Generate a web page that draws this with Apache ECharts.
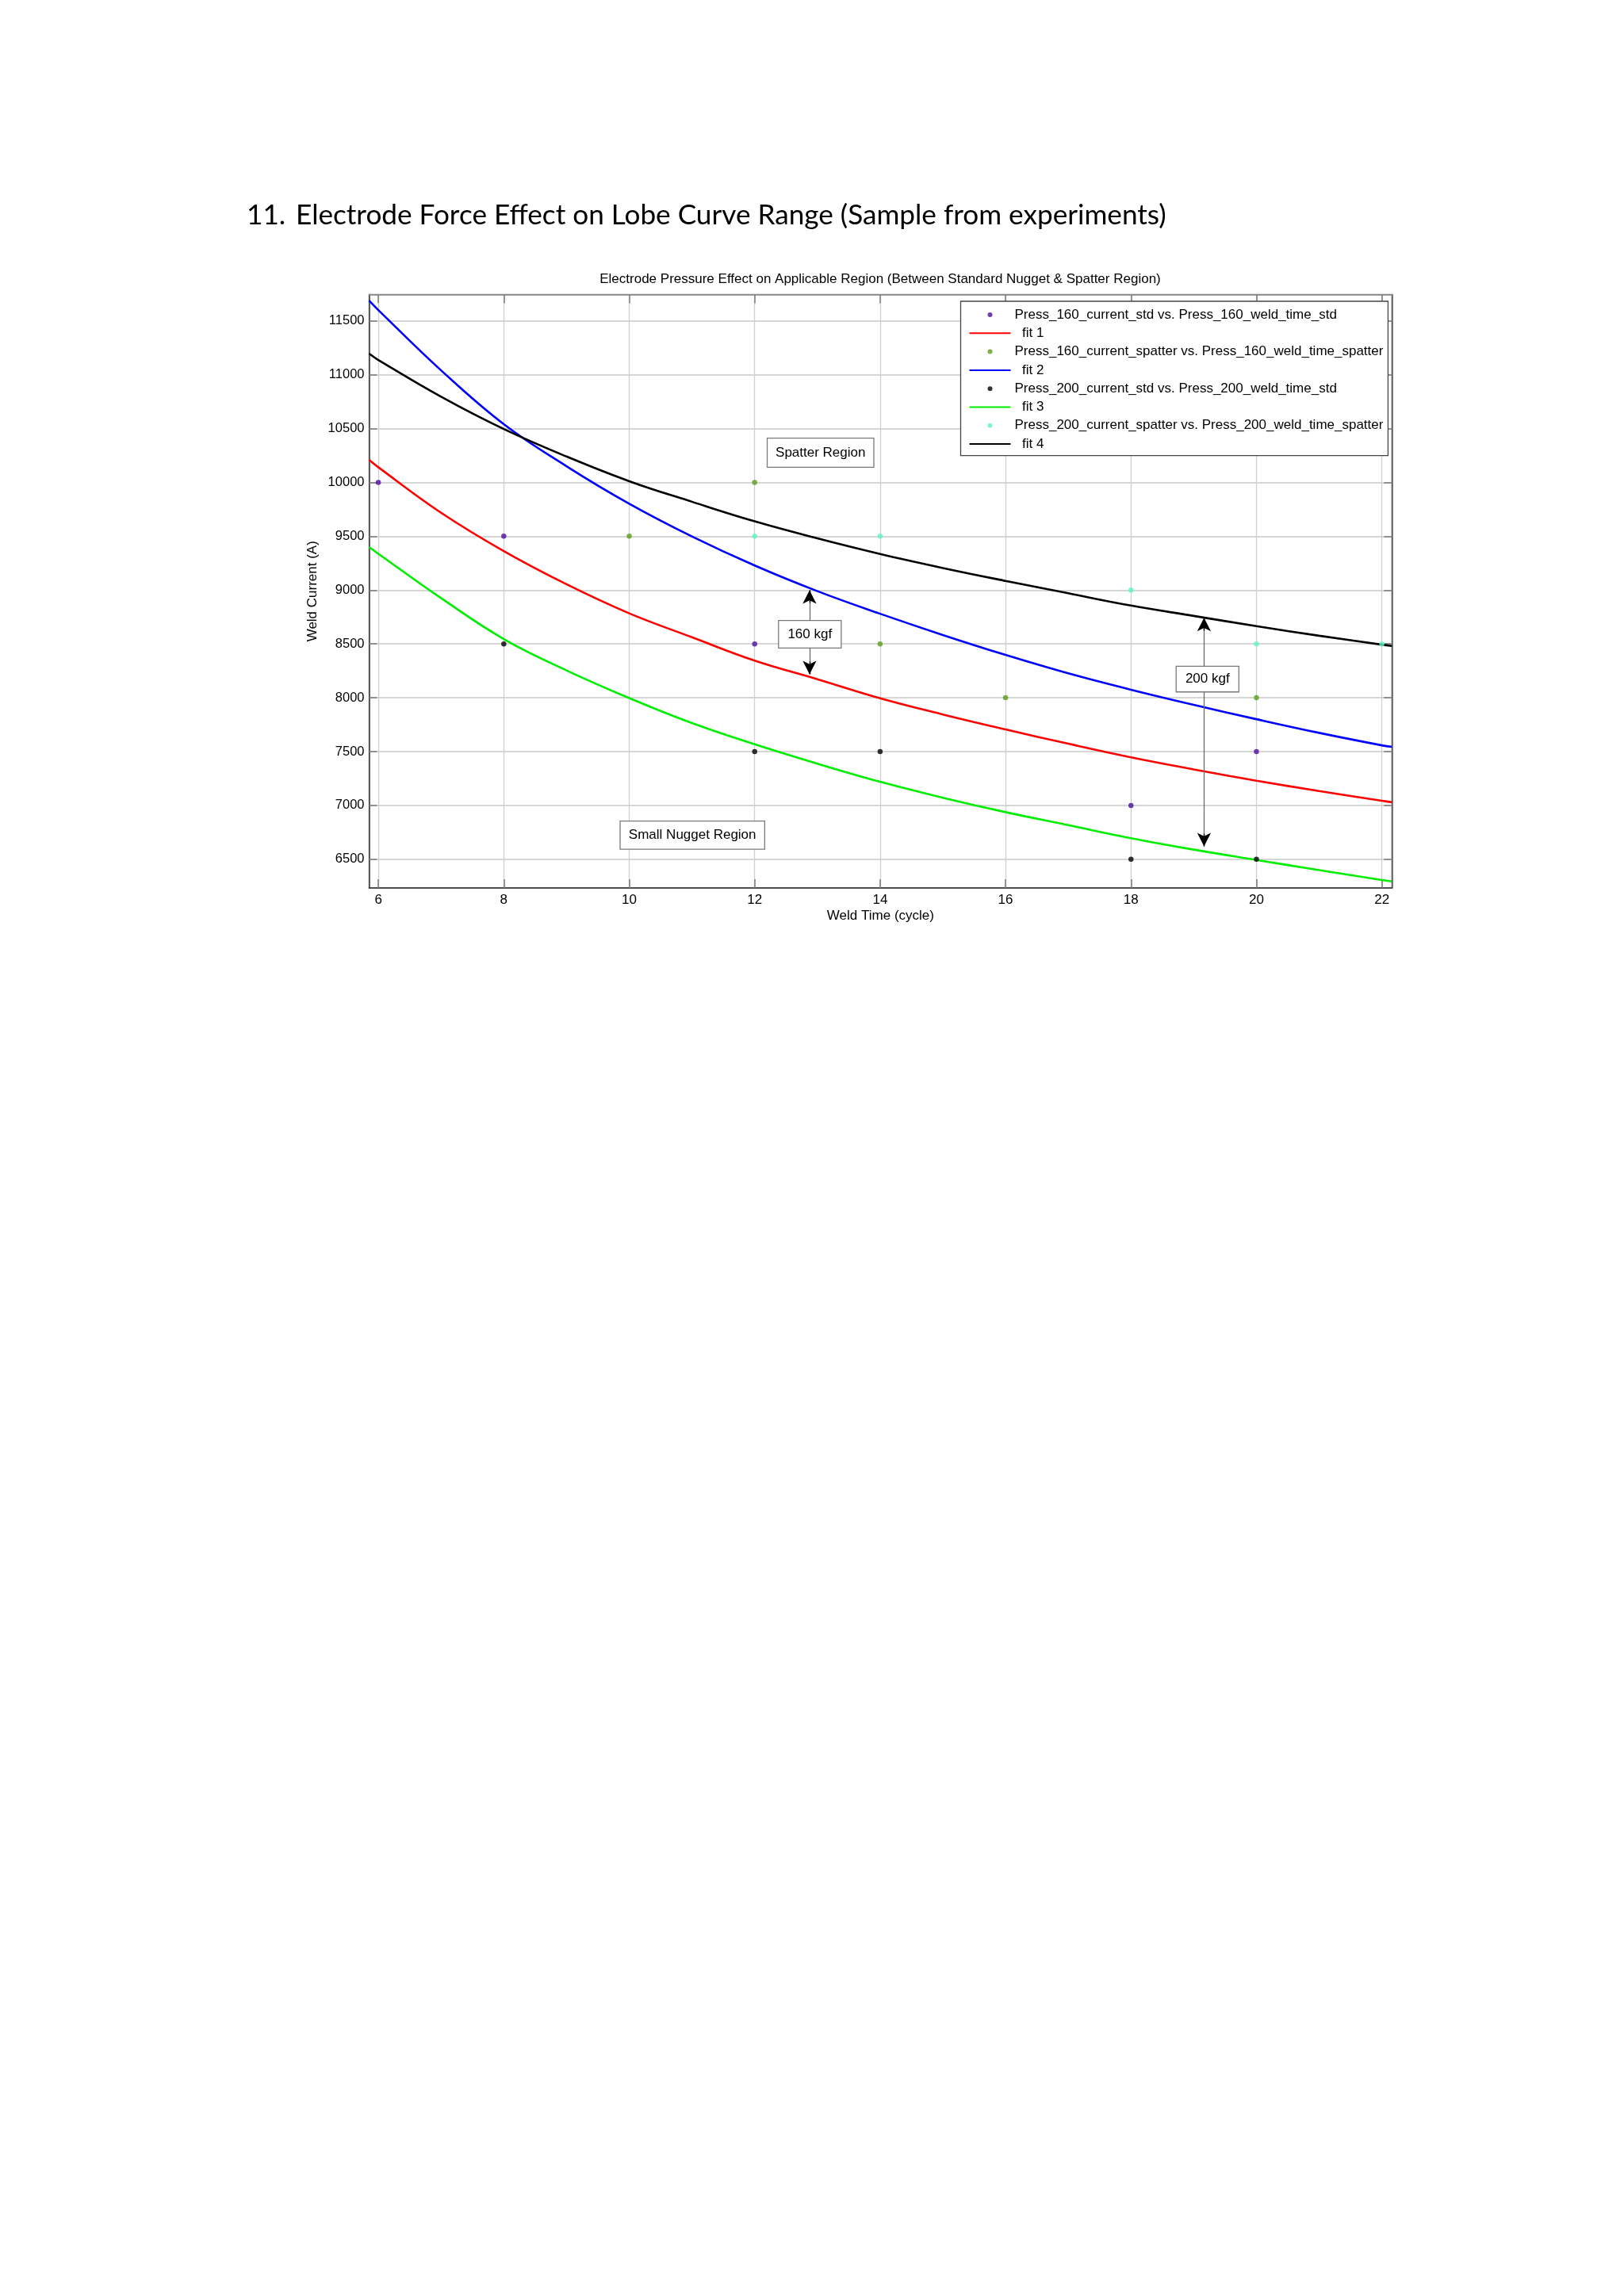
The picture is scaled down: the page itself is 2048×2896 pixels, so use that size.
<!DOCTYPE html>
<html>
<head>
<meta charset="utf-8">
<script src="https://cdn.jsdelivr.net/npm/echarts@6/dist/echarts.min.js"></script>
<style>
html,body{margin:0;padding:0;background:#ffffff;}
#c{width:2048px;height:2896px;}
</style>
</head>
<body>
<div id="c"></div>
<script>
// ---------- text ----------
const pageTitleNum = '11.';
const pageTitle = 'Electrode Force Effect on Lobe Curve Range (Sample from experiments)';
const chartTitle = 'Electrode Pressure Effect on Applicable Region (Between Standard Nugget & Spatter Region)';
const xAxisName = 'Weld Time (cycle)';
const yAxisName = 'Weld Current (A)';

// ---------- axes ----------
const xTicks = [6, 8, 10, 12, 14, 16, 18, 20, 22];
const yTicks = [6500, 7000, 7500, 8000, 8500, 9000, 9500, 10000, 10500, 11000, 11500];
const xRange = [5.853, 22.16];
const yRange = [6234, 11744];

// ---------- measured points ----------
const press160StdX = [6, 8, 12, 18, 20];
const press160StdY = [10000, 9500, 8500, 7000, 7500];
const press160SpatterX = [10, 12, 14, 16, 20];
const press160SpatterY = [9500, 10000, 8500, 8000, 8000];
const press200StdX = [8, 12, 14, 18, 20];
const press200StdY = [8500, 7500, 7500, 6500, 6500];
const press200SpatterX = [12, 14, 18, 20, 22];
const press200SpatterY = [9500, 9500, 9000, 8500, 8500];

// ---------- fitted curves ----------
const fitX  = [5.853, 6, 7, 8, 9, 10, 11, 12, 13, 14, 15, 16, 17, 18, 19, 20, 21, 22, 22.16];
const fit1Y = [10209, 10140, 9718, 9362, 9054, 8784, 8562, 8345, 8172, 7995, 7845, 7706, 7573, 7447, 7335, 7230, 7134, 7044, 7030];
const fit2Y = [11688, 11600, 11040, 10540, 10150, 9802, 9498, 9228, 8990, 8780, 8583, 8398, 8227, 8075, 7934, 7801, 7674, 7558, 7544];
const fit3Y = [9399, 9337, 8925, 8545, 8254, 7997, 7765, 7568, 7388, 7220, 7072, 6938, 6817, 6696, 6590, 6494, 6400, 6308, 6295];
const fit4Y = [11195, 11136, 10795, 10495, 10240, 10011, 9820, 9638, 9480, 9335, 9205, 9085, 8970, 8856, 8760, 8665, 8576, 8493, 8481];

const seriesNames = [
  'Press_160_current_std vs. Press_160_weld_time_std', 'fit 1',
  'Press_160_current_spatter vs. Press_160_weld_time_spatter', 'fit 2',
  'Press_200_current_std vs. Press_200_weld_time_std', 'fit 3',
  'Press_200_current_spatter vs. Press_200_weld_time_spatter', 'fit 4'
];

const FONT = '"Liberation Sans", Arial, sans-serif';
const FS = 17;
const zip = (xs, ys) => xs.map((x, i) => [x, ys[i]]);

// fit page title width to reference
function measure(text, font) {
  const cv = document.createElement('canvas');
  const ctx = cv.getContext('2d');
  ctx.font = font;
  return ctx.measureText(text).width;
}
let titleSize = 34;
const w = measure(pageTitle, titleSize + 'px Lato');
if (w > 0) titleSize = Math.max(26, Math.min(42, titleSize * 1098 / w));

function scatter(name, xs, ys, color) {
  return {
    name, type: 'scatter', data: zip(xs, ys),
    symbol: 'circle', symbolSize: 6.5,
    itemStyle: { color }, z: 6
  };
}
function fit(name, ys, color) {
  return {
    name, type: 'line', data: zip(fitX, ys),
    smooth: 0.4, symbol: 'none', showSymbol: false,
    lineStyle: { color, width: 2.6 }, itemStyle: { color }, z: 4
  };
}

const chart = echarts.init(document.getElementById('c'), null, { renderer: 'canvas' });

const boxStyle = { color: '#ffffff', borderColor: '#7a7a7a', borderWidth: 1.3 };
const legendData = seriesNames.map(n => (n.indexOf('fit') === 0
  ? { name: n, itemStyle: { opacity: 0 } }
  : { name: n }));

const option = {
  animation: false,
  backgroundColor: '#ffffff',
  grid: { left: 465.5, top: 371.5, width: 1289.8, height: 748.5, show: true,
          backgroundColor: '#ffffff', borderColor: '#8a8a8a', borderWidth: 1.5 },
  legend: {
    orient: 'vertical', left: 1211.5, top: 380,
    padding: [8.5, 6, 6, 10], itemWidth: 52, itemHeight: 6, itemGap: 6.3,
    backgroundColor: '#ffffff', borderColor: '#444', borderWidth: 1.3, borderRadius: 0,
    selectedMode: false,
    textStyle: { fontSize: FS, lineHeight: 17, color: '#000', fontFamily: FONT },
    formatter: n => (n.indexOf('fit') === 0 ? '  ' + n : n),
    data: legendData
  },
  xAxis: [{
    type: 'value', position: 'bottom', min: xRange[0], max: xRange[1],
    name: xAxisName, nameLocation: 'middle', nameGap: 27,
    nameTextStyle: { fontSize: FS, color: '#000', fontFamily: FONT },
    axisLine: { show: true, onZero: false, lineStyle: { color: '#333', width: 1.6 } },
    axisTick: { show: true, inside: true, length: 11, customValues: xTicks, lineStyle: { color: '#7a7a7a', width: 1.5 } },
    axisLabel: { customValues: xTicks, margin: 7, fontSize: FS, color: '#000', fontFamily: FONT,
                 formatter: v => String(v) },
    splitLine: { show: true, lineStyle: { color: '#cfcfcf', width: 1.3 } }
  }, {
    type: 'value', position: 'top', min: xRange[0], max: xRange[1],
    axisLine: { show: true, onZero: false, lineStyle: { color: '#8a8a8a', width: 1.5 } },
    axisTick: { show: true, inside: true, length: 11, customValues: xTicks, lineStyle: { color: '#7a7a7a', width: 1.5 } },
    axisLabel: { show: false },
    splitLine: { show: false }
  }],
  yAxis: [{
    type: 'value', position: 'left', min: yRange[0], max: yRange[1],
    name: yAxisName, nameLocation: 'middle', nameGap: 54,
    nameTextStyle: { fontSize: FS, color: '#000', fontFamily: FONT },
    axisLine: { show: true, onZero: false, lineStyle: { color: '#444', width: 1.6 } },
    axisTick: { show: true, inside: true, length: 10, customValues: yTicks, lineStyle: { color: '#7a7a7a', width: 1.5 } },
    axisLabel: { customValues: yTicks, margin: 6, fontSize: 16.5, color: '#000', fontFamily: FONT,
                 formatter: v => String(v) },
    splitLine: { show: true, lineStyle: { color: '#d6d6d6', width: 2 } }
  }, {
    type: 'value', position: 'right', min: yRange[0], max: yRange[1],
    axisLine: { show: true, onZero: false, lineStyle: { color: '#555', width: 1.5 } },
    axisTick: { show: true, inside: true, length: 10, customValues: yTicks, lineStyle: { color: '#7a7a7a', width: 1.5 } },
    axisLabel: { show: false },
    splitLine: { show: false }
  }],
  series: [
    scatter(seriesNames[0], press160StdX, press160StdY, '#4d0c9c'),
    fit(seriesNames[1], fit1Y, '#ff0000'),
    scatter(seriesNames[2], press160SpatterX, press160SpatterY, '#5b9e1c'),
    fit(seriesNames[3], fit2Y, '#0000ff'),
    scatter(seriesNames[4], press200StdX, press200StdY, '#000000'),
    fit(seriesNames[5], fit3Y, '#00ee00'),
    scatter(seriesNames[6], press200SpatterX, press200SpatterY, '#5cf5c4'),
    fit(seriesNames[7], fit4Y, '#000000'),
    {
      name: 'annotations', type: 'line', data: [], silent: true, z: 7,
      markArea: {
        silent: true, itemStyle: boxStyle,
        label: { show: true, position: 'inside', color: '#000', fontSize: FS, fontFamily: FONT },
        data: [
          [{ name: 'Spatter Region', coord: [12.2, 10410] }, { coord: [13.9, 10140] }],
          [{ name: '160 kgf', coord: [12.38, 8718] }, { coord: [13.38, 8462] }],
          [{ name: '200 kgf', coord: [18.72, 8293] }, { coord: [19.72, 8054] }],
          [{ name: 'Small Nugget Region', coord: [9.855, 6855] }, { coord: [12.16, 6594] }]
        ]
      },
      markLine: {
        silent: true, symbol: ['none', 'none'], symbolSize: [13, 17],
        label: { show: false },
        lineStyle: { color: '#6a6a6a', width: 1.3, type: 'solid' },
        emphasis: { disabled: true },
        data: [
          [{ coord: [12.875, 8718] }, { coord: [12.875, 8999] }],
          [{ coord: [12.875, 8462] }, { coord: [12.875, 8218] }],
          [{ coord: [19.165, 8293] }, { coord: [19.165, 8742] }],
          [{ coord: [19.165, 8054] }, { coord: [19.165, 6620] }],
          [{ coord: [12.875, 8880], lineStyle: { color: '#000' } }, { coord: [12.875, 8999], symbol: 'arrow' }],
          [{ coord: [12.875, 8337], lineStyle: { color: '#000' } }, { coord: [12.875, 8218], symbol: 'arrow' }],
          [{ coord: [19.165, 8623], lineStyle: { color: '#000' } }, { coord: [19.165, 8742], symbol: 'arrow' }],
          [{ coord: [19.165, 6739], lineStyle: { color: '#000' } }, { coord: [19.165, 6620], symbol: 'arrow' }]
        ]
      }
    }
  ],
  graphic: [
    { type: 'text', x: 311, y: 271.5, silent: true,
      style: { text: pageTitleNum, font: titleSize + 'px Lato', fill: '#000', align: 'left', verticalAlign: 'middle' } },
    { type: 'text', x: 373, y: 271.5, silent: true,
      style: { text: pageTitle, font: titleSize + 'px Lato', fill: '#000', align: 'left', verticalAlign: 'middle' } },
    { type: 'text', x: 1110, y: 352, silent: true,
      style: { text: chartTitle, font: FS + 'px ' + FONT, fill: '#000', align: 'center', verticalAlign: 'middle' } }
  ]
};
chart.setOption(option);
</script>
</body>
</html>
